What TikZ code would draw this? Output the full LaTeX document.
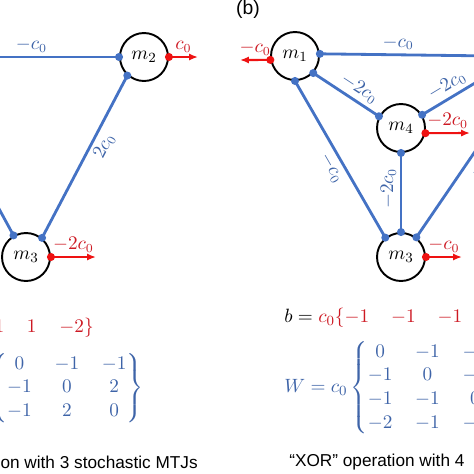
\documentclass[tikz,border=0pt]{standalone}
\usepackage{amsmath}
\usepackage{fontspec}
\newfontfamily\capfont{Liberation Sans}
\usetikzlibrary{positioning, arrows.meta}
\definecolor{wblue}{RGB}{68,114,196}
\definecolor{tblue}{RGB}{62,100,168}
\definecolor{bred}{RGB}{238,18,18}
\definecolor{tred}{RGB}{205,25,35}

\begin{document}
\begin{tikzpicture}[x=0.02cm, y=-0.02cm,
    mtj/.style={circle, draw, line width=1.1pt, minimum size=0.96cm, inner sep=0pt, font=\fontsize{11}{13}\selectfont},
    link/.style={draw=wblue, line width=1.6pt},
    wlabel/.style={text=tblue, inner sep=2pt, font=\fontsize{10.5}{12}\selectfont},
    bias/.style={draw=bred, line width=1.2pt, -{Latex[length=5pt, width=4pt]}},
    blabel/.style={text=tred, inner sep=2pt, font=\fontsize{10.5}{12}\selectfont},
    eqn/.style={inner sep=0pt, font=\fontsize{11}{13.5}\selectfont},
    caption/.style={inner sep=0pt, font=\capfont\fontsize{9.8}{11}\selectfont}]
  \useasboundingbox (0,0) rectangle (474,474);
  \clip (0,0) rectangle (474,474);

  % panel (a)
  \node[mtj] (mA2) at (144,57) {$m_2$};
  \node[mtj] (mA3) at (26,257) {$m_3$};
  \coordinate (fA1) at (-20,57);
  \coordinate (fA3) at (-20,174);
  \coordinate (oA2) at (198,57);
  \coordinate (oA3) at (96,257);

  \draw[link] (fA1) -- node[wlabel, above, pos=0.37] {$-c_0$} (mA2.west);
  \draw[link] (mA3.50) -- node[wlabel, sloped, below, pos=0.6] {$2c_0$} (mA2.228);
  \draw[link] (fA3) -- (mA3.120);
  \foreach \p in {mA2.west, mA2.228, mA3.50, mA3.120}
    \fill[wblue] (\p) circle[radius=2.3pt];

  \draw[bias] (mA2.east) -- node[blabel, above] {$c_0$} (oA2);
  \draw[bias] (mA3.east) -- node[blabel, above] {$-2c_0$} (oA3);
  \fill[bred] (mA2.east) circle[radius=2.3pt];
  \fill[bred] (mA3.east) circle[radius=2.3pt];

  \node[eqn, anchor=east] (bA) at (94,328) {$\color{tred}b = c_0\{1\hspace{13pt}1\hspace{13pt}{-2}\}$};
  \node[eqn, anchor=east, text=tblue] (wA) at (144,388)
    {\arraycolsep=6.5pt$W = c_0\left\{\begin{matrix} 0 & -1 & -1\\ -1 & 0 & 2\\ -1 & 2 & 0 \end{matrix}\right\}$};
  \node[caption, anchor=east] (capA) at (198,462) {on with 3 stochastic MTJs};

  % panel (b)
  \node[caption, font=\capfont\fontsize{11}{13}\selectfont] (tagB) at (248,9) {(b)};
  \node[mtj] (mB1) at (295,56) {$m_1$};
  \node[mtj] (mB4) at (401,128) {$m_4$};
  \node[mtj] (mB3) at (401,257) {$m_3$};
  \coordinate (fB1) at (494,56);
  \coordinate (fB4) at (500,68);
  \coordinate (fB3) at (500,115);
  \coordinate (oB1) at (240,60);
  \coordinate (oB4) at (470,133);
  \coordinate (oB3) at (462,257);

  \draw[link] (mB1.5) -- node[wlabel, above, pos=0.45] {$-c_0$} (fB1);
  \draw[link] (mB1.-43) -- node[wlabel, sloped, above, pos=0.6] {$-2c_0$} (mB4.152);
  \draw[link] (mB1.south) -- node[wlabel, sloped, below, pos=0.52] {$-c_0$} (mB3.129);
  \draw[link] (mB4.32) -- node[wlabel, sloped, above, pos=0.4] {$-2c_0$} (fB4);
  \draw[link] (mB3.north) -- node[wlabel, rotate=90, anchor=south, pos=0.55] {$-2c_0$} (mB4.south);
  \draw[link] (mB3.52) -- node[wlabel, sloped, below, pos=0.67] {$-c_0$} (fB3);
  \foreach \p in {mB1.5, mB1.-43, mB1.south, mB4.152, mB4.32, mB4.south, mB3.129, mB3.north, mB3.52}
    \fill[wblue] (\p) circle[radius=2.3pt];

  \draw[bias] (mB1.189) -- node[blabel, above] {$-c_0$} (oB1);
  \draw[bias] (mB4.-12) -- node[blabel, above] {$-2c_0$} (oB4);
  \draw[bias] (mB3.east) -- node[blabel, above] {$-c_0$} (oB3);
  \foreach \p in {mB1.189, mB4.-12, mB3.east}
    \fill[bred] (\p) circle[radius=2.3pt];

  \node[eqn, anchor=west] (bB) at (284,318) {$b = {\color{tred}c_0\{{-1}\hspace{12.5pt}{-1}\hspace{12.5pt}{-1}\hspace{12.5pt}{-2}\}}$};
  \node[eqn, anchor=west, text=tblue] (wB) at (284,388)
    {\arraycolsep=6.5pt$W = c_0\left\{\begin{matrix} 0 & -1 & -1 & -2\\ -1 & 0 & -1 & -1\\ -1 & -1 & 0 & -2\\ -2 & -1 & -2 & 0 \end{matrix}\right\}$};
  \node[caption, anchor=west] (capB) at (289,462) {“XOR” operation with 4};
\end{tikzpicture}
\end{document}
